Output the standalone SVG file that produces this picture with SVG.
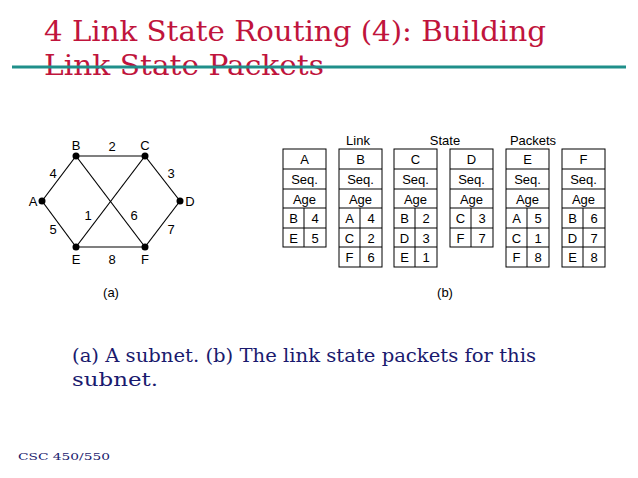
<svg xmlns="http://www.w3.org/2000/svg" width="638" height="478" viewBox="0 0 638 478">
<style>
.t{font-family:"DejaVu Serif","Liberation Serif",serif;fill:#c0143c;font-size:28px}
.s{font-family:"Liberation Sans",sans-serif;font-size:13px;fill:#000;text-anchor:middle}
.e{stroke:#000;stroke-width:1.2;fill:none}
.b{stroke:#000;stroke-width:1;fill:#fff}
</style>
<rect width="638" height="478" fill="#fff"/>
<text class="t" x="44" y="41" textLength="502" lengthAdjust="spacingAndGlyphs">4 Link State Routing (4): Building</text>
<text class="t" x="44" y="75" textLength="280" lengthAdjust="spacingAndGlyphs">Link State Packets</text>
<line x1="12" y1="67" x2="626" y2="67" stroke="#1f8f8a" stroke-width="3"/>
<g id="connectors">
<line class="e" x1="76" y1="156" x2="145" y2="156"/>
<line class="e" x1="76" y1="156" x2="42" y2="201"/>
<line class="e" x1="42" y1="201" x2="76" y2="247"/>
<line class="e" x1="76" y1="247" x2="145" y2="247"/>
<line class="e" x1="145" y1="156" x2="180" y2="201"/>
<line class="e" x1="180" y1="201" x2="145" y2="247"/>
<line class="e" x1="76" y1="156" x2="145" y2="247"/>
<line class="e" x1="145" y1="156" x2="76" y2="247"/>
</g>
<g class="s">
<text x="53" y="178">4</text><text x="112" y="151">2</text><text x="171" y="178">3</text>
<text x="53" y="234">5</text><text x="88" y="220">1</text><text x="134" y="220">6</text>
<text x="171" y="234">7</text><text x="112" y="264">8</text>
</g>
<g id="nA"><circle cx="42" cy="201" r="3.5"/><text class="s" x="33" y="206">A</text></g>
<g id="nB"><circle cx="76" cy="156" r="3.5"/><text class="s" x="76" y="150">B</text></g>
<g id="nC"><circle cx="145" cy="156" r="3.5"/><text class="s" x="145" y="150">C</text></g>
<g id="nD"><circle cx="180" cy="201" r="3.5"/><text class="s" x="190" y="206">D</text></g>
<g id="nE"><circle cx="76" cy="247" r="3.5"/><text class="s" x="76" y="264">E</text></g>
<g id="nF"><circle cx="145" cy="247" r="3.5"/><text class="s" x="145" y="264">F</text></g>
<text class="s" x="111" y="297">(a)</text>
<text class="s" x="445" y="297">(b)</text>
<text class="s" x="358" y="145">Link</text>
<text class="s" x="445" y="145">State</text>
<text class="s" x="533" y="145">Packets</text>
<g id="pA" transform="translate(283,149)">
<rect class="b" width="43" height="98"/><line class="b" x1="0" y1="20" x2="43" y2="20"/><line class="b" x1="0" y1="40" x2="43" y2="40"/><line class="b" x1="0" y1="59" x2="43" y2="59"/><line class="b" x1="0" y1="79" x2="43" y2="79"/><line class="b" x1="21" y1="59" x2="21" y2="98"/>
<text class="s" x="21.5" y="15">A</text><text class="s" x="21.5" y="35">Seq.</text><text class="s" x="21.5" y="55">Age</text>
<text class="s" x="10.5" y="74">B</text><text class="s" x="32" y="74">4</text><text class="s" x="10.5" y="94">E</text><text class="s" x="32" y="94">5</text>
</g>
<g id="pB" transform="translate(339,149)">
<rect class="b" width="43" height="118"/><line class="b" x1="0" y1="20" x2="43" y2="20"/><line class="b" x1="0" y1="40" x2="43" y2="40"/><line class="b" x1="0" y1="59" x2="43" y2="59"/><line class="b" x1="0" y1="79" x2="43" y2="79"/><line class="b" x1="0" y1="98" x2="43" y2="98"/><line class="b" x1="21" y1="59" x2="21" y2="118"/>
<text class="s" x="21.5" y="15">B</text><text class="s" x="21.5" y="35">Seq.</text><text class="s" x="21.5" y="55">Age</text>
<text class="s" x="10.5" y="74">A</text><text class="s" x="32" y="74">4</text><text class="s" x="10.5" y="94">C</text><text class="s" x="32" y="94">2</text><text class="s" x="10.5" y="113">F</text><text class="s" x="32" y="113">6</text>
</g>
<g id="pC" transform="translate(394,149)">
<rect class="b" width="43" height="118"/><line class="b" x1="0" y1="20" x2="43" y2="20"/><line class="b" x1="0" y1="40" x2="43" y2="40"/><line class="b" x1="0" y1="59" x2="43" y2="59"/><line class="b" x1="0" y1="79" x2="43" y2="79"/><line class="b" x1="0" y1="98" x2="43" y2="98"/><line class="b" x1="21" y1="59" x2="21" y2="118"/>
<text class="s" x="21.5" y="15">C</text><text class="s" x="21.5" y="35">Seq.</text><text class="s" x="21.5" y="55">Age</text>
<text class="s" x="10.5" y="74">B</text><text class="s" x="32" y="74">2</text><text class="s" x="10.5" y="94">D</text><text class="s" x="32" y="94">3</text><text class="s" x="10.5" y="113">E</text><text class="s" x="32" y="113">1</text>
</g>
<g id="pD" transform="translate(450,149)">
<rect class="b" width="43" height="98"/><line class="b" x1="0" y1="20" x2="43" y2="20"/><line class="b" x1="0" y1="40" x2="43" y2="40"/><line class="b" x1="0" y1="59" x2="43" y2="59"/><line class="b" x1="0" y1="79" x2="43" y2="79"/><line class="b" x1="21" y1="59" x2="21" y2="98"/>
<text class="s" x="21.5" y="15">D</text><text class="s" x="21.5" y="35">Seq.</text><text class="s" x="21.5" y="55">Age</text>
<text class="s" x="10.5" y="74">C</text><text class="s" x="32" y="74">3</text><text class="s" x="10.5" y="94">F</text><text class="s" x="32" y="94">7</text>
</g>
<g id="pE" transform="translate(506,149)">
<rect class="b" width="43" height="118"/><line class="b" x1="0" y1="20" x2="43" y2="20"/><line class="b" x1="0" y1="40" x2="43" y2="40"/><line class="b" x1="0" y1="59" x2="43" y2="59"/><line class="b" x1="0" y1="79" x2="43" y2="79"/><line class="b" x1="0" y1="98" x2="43" y2="98"/><line class="b" x1="21" y1="59" x2="21" y2="118"/>
<text class="s" x="21.5" y="15">E</text><text class="s" x="21.5" y="35">Seq.</text><text class="s" x="21.5" y="55">Age</text>
<text class="s" x="10.5" y="74">A</text><text class="s" x="32" y="74">5</text><text class="s" x="10.5" y="94">C</text><text class="s" x="32" y="94">1</text><text class="s" x="10.5" y="113">F</text><text class="s" x="32" y="113">8</text>
</g>
<g id="pF" transform="translate(562,149)">
<rect class="b" width="43" height="118"/><line class="b" x1="0" y1="20" x2="43" y2="20"/><line class="b" x1="0" y1="40" x2="43" y2="40"/><line class="b" x1="0" y1="59" x2="43" y2="59"/><line class="b" x1="0" y1="79" x2="43" y2="79"/><line class="b" x1="0" y1="98" x2="43" y2="98"/><line class="b" x1="21" y1="59" x2="21" y2="118"/>
<text class="s" x="21.5" y="15">F</text><text class="s" x="21.5" y="35">Seq.</text><text class="s" x="21.5" y="55">Age</text>
<text class="s" x="10.5" y="74">B</text><text class="s" x="32" y="74">6</text><text class="s" x="10.5" y="94">D</text><text class="s" x="32" y="94">7</text><text class="s" x="10.5" y="113">E</text><text class="s" x="32" y="113">8</text>
</g>
<g font-family="DejaVu Serif,Liberation Serif,serif" font-size="19" fill="#1a1a6e">
<text x="72" y="362" textLength="464" lengthAdjust="spacingAndGlyphs">(a) A subnet.  (b) The link state packets for this</text>
<text x="72" y="386" textLength="86" lengthAdjust="spacingAndGlyphs">subnet.</text>
</g>
<text x="18" y="460" font-family="DejaVu Serif,Liberation Serif,serif" font-size="9" fill="#1a1a6e" textLength="92" lengthAdjust="spacingAndGlyphs">CSC 450/550</text>
</svg>
